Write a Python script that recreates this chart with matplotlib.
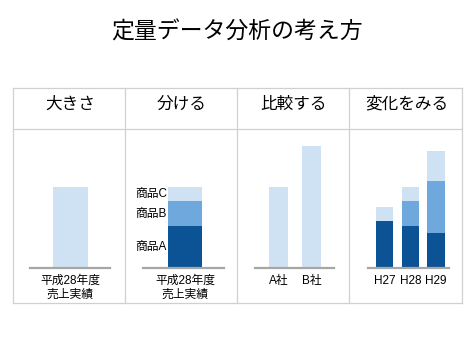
import matplotlib.pyplot as plt
import numpy as np

plt.rcParams['font.family'] = ['Liberation Sans', 'Noto Sans CJK JP', 'DejaVu Sans']

W, H = 474, 355

title = '定量データ分析の考え方'
headers = ['大きさ', '分ける', '比較する', '変化をみる']

# panel data (arbitrary units)
size_label = '平成28年度\n売上実績'
size_value = 81

split_names = ['商品A', '商品B', '商品C']
split_values = [42, 25, 14]

compare_names = ['A社', 'B社']
compare_values = [81, 122]

years = ['H27', 'H28', 'H29']
prod_a = [47, 42, 35]
prod_b = [0, 25, 52]
prod_c = [14, 14, 30]

c_dark = '#0b5394'
c_mid = '#6fa8dc'
c_light = '#cfe2f3'
grid_c = '#d0d0d0'
base_c = '#a6a6a6'

fig = plt.figure(figsize=(W / 100, H / 100), dpi=100)

# background axes in pixel coords for table and titles
bg = fig.add_axes([0, 0, 1, 1])
bg.set_xlim(0, W)
bg.set_ylim(H, 0)
bg.axis('off')

cols = [13, 125, 237, 349, 462]
top, mid, bot = 88, 129, 303
lw = 0.9
for x in cols:
    bg.plot([x, x], [top, bot], color=grid_c, lw=lw)
for y in [top, mid, bot]:
    bg.plot([cols[0], cols[-1]], [y, y], color=grid_c, lw=lw)

bg.text(237, 32, title, ha='center', va='center', fontsize=16.5)
for i, h in enumerate(headers):
    bg.text((cols[i] + cols[i + 1]) / 2 + 1, 104, h, ha='center', va='center', fontsize=12)


def panel(x0, x1, xlim):
    base, ytop = 268, 140
    ax = fig.add_axes([x0 / W, (H - base) / H, (x1 - x0) / W, (base - ytop) / H])
    ax.set_xlim(*xlim)
    ax.set_ylim(0, base - ytop)
    ax.patch.set_alpha(0)
    for s in ['top', 'left', 'right']:
        ax.spines[s].set_visible(False)
    ax.spines['bottom'].set_color(base_c)
    ax.spines['bottom'].set_linewidth(1.6)
    ax.set_yticks([])
    ax.tick_params(axis='x', length=0, pad=5, labelsize=8.5)
    return ax


# 大きさ
ax1 = panel(30, 110, (-1.0, 1.0))
ax1.bar([0], [size_value], width=0.875, color=c_light)
ax1.set_xticks([0])
ax1.set_xticklabels([size_label], linespacing=1.2)

# 分ける
ax2 = panel(143, 224, (-1.05, 0.975))
bw = 0.85
bottom = 0
colors2 = [c_dark, c_mid, c_light]
for name, v, c in zip(split_names, split_values, colors2):
    ax2.bar([0], [v], bottom=bottom, width=bw, color=c)
    ax2.text(-bw / 2 - 0.03, bottom + v / 2, name, ha='right', va='center', fontsize=8.5)
    bottom += v
ax2.set_xticks([0])
ax2.set_xticklabels([size_label], linespacing=1.2)

# 比較する
ax3 = panel(255, 334, (-0.71, 1.68))
ax3.bar(np.arange(len(compare_names)), compare_values, width=0.58, color=c_light)
ax3.set_xticks(np.arange(len(compare_names)))
ax3.set_xticklabels(compare_names)

# 変化をみる
ax4 = panel(368, 449, (-0.64, 2.5))
xs = np.arange(len(years))
a = np.array(prod_a)
b = np.array(prod_b)
c = np.array(prod_c)
ax4.bar(xs, a, width=0.68, color=c_dark)
ax4.bar(xs, b, bottom=a, width=0.68, color=c_mid)
ax4.bar(xs, c, bottom=a + b, width=0.68, color=c_light)
ax4.set_xticks(xs)
ax4.set_xticklabels(years)

fig.savefig('out.png', dpi=100)
